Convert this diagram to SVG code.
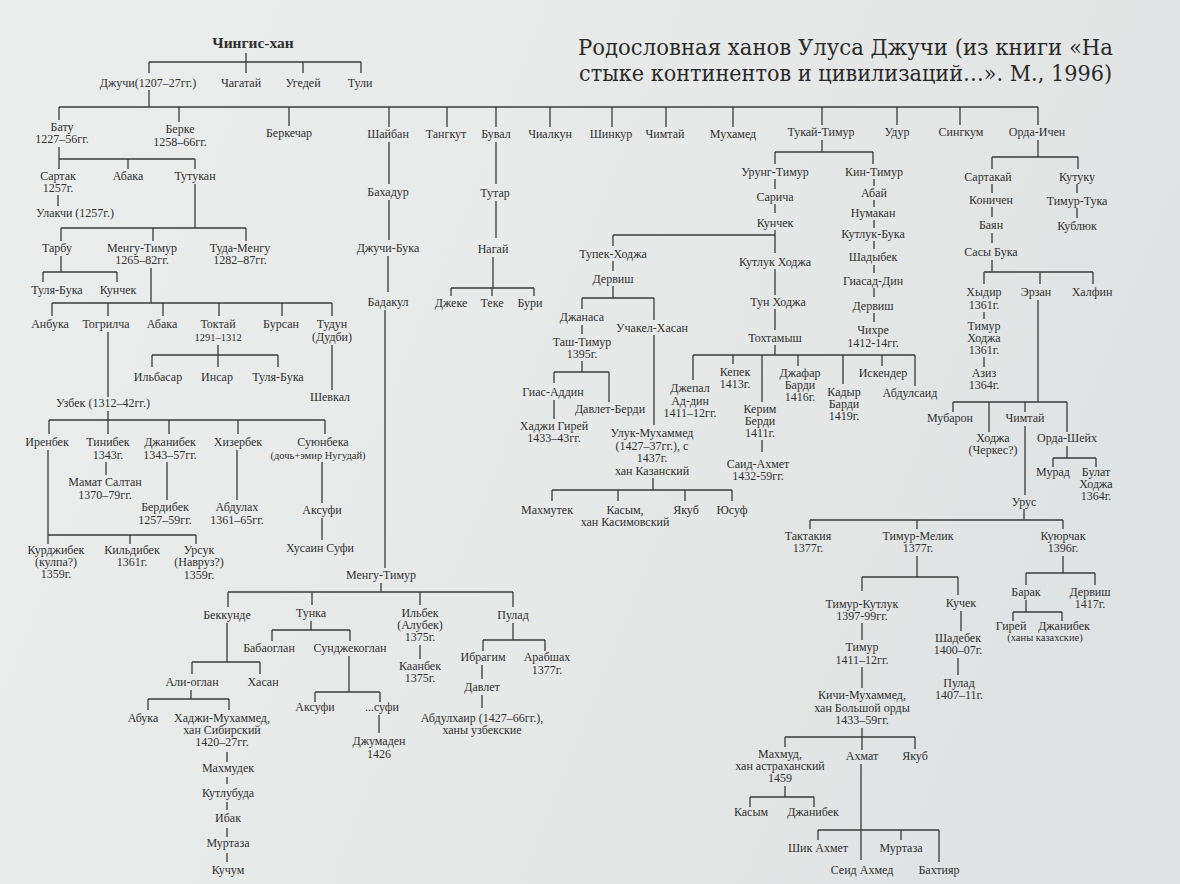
<svg xmlns="http://www.w3.org/2000/svg" width="1180" height="884" viewBox="0 0 1180 884">
<defs>
<linearGradient id="bg" x1="0" y1="0" x2="1" y2="0.3">
<stop offset="0" stop-color="#eceeed"/>
<stop offset="0.6" stop-color="#e7e9e8"/>
<stop offset="1" stop-color="#e0e3e3"/>
</linearGradient>
<style>
text{font-family:"Liberation Serif";font-size:12px;fill:#2f3030;text-anchor:middle}
.b{font-weight:bold;font-size:15.5px}
.sm{font-size:10.5px}
.ttl{font-family:"DejaVu Serif",serif;font-size:22px;text-anchor:start;fill:#2a2a2a}
#conn path{stroke:#3a3b3b;stroke-width:1.3;fill:none}
</style>
</defs>
<rect width="1180" height="884" fill="url(#bg)"/>
<g id="title"><text class="ttl" x="578" y="55" textLength="535" lengthAdjust="spacingAndGlyphs">Родословная ханов Улуса Джучи (из книги «На</text><text class="ttl" x="579" y="81" textLength="533" lengthAdjust="spacingAndGlyphs">стыке континентов и цивилизаций…». М., 1996)</text></g>
<g id="conn">
<path d="M246,53V62M149,62H361M149,62V73M246,62V73M303,62V73M361,62V73"/>
<path d="M149,90V107M59,107H1038M59,107V120M179,107V122M289,107V126M389,107V127M447,107V127M496,107V127M550,107V127M612,107V127M666,107V127M733,107V127M822,107V125M897,107V125M960,107V125M1038,107V125"/>
<path d="M59,147V159H195M59,159V169M128,159V169M195,159V169M58,195V206"/>
<path d="M195,184V228M61,228H246M61,228V241M153,228V241M246,228V241"/>
<path d="M61,256V272M43,272H117M43,272V282M117,272V282"/>
<path d="M151,268V303M52,303H332M52,303V316M108,303V316M163,303V316M219,303V316M282,303V316M332,303V316"/>
<path d="M218,345V355M152,355H278M152,355V367M218,355V367M278,355V367M332,345V390M108,332V397"/>
<path d="M108,411V420M49,420H325M49,420V434M108,420V434M169,420V434M238,420V434M325,420V434"/>
<path d="M106,462V475M167,462V500M237,450V500M322,462V503M322,518V540M48,450V535H196M48,535V544M130,535V544M196,535V544"/>
<path d="M389,142V184M389,200V240M388,256V292M385,310V568"/>
<path d="M381,583V592M228,592H513M228,592V607M312,592V605M420,592V605M513,592V607"/>
<path d="M311,621V630M272,630H350M272,630V641M350,630V641M349,656V692M315,692H380M315,692V702M380,692V702M379,715V733"/>
<path d="M227,623V662M192,662H260M192,662V674M260,662V674M191,690V699M148,699H229M148,699V710M229,699V710"/>
<path d="M227,752V762M227,777V784M227,802V810M227,828V837M227,853V862"/>
<path d="M420,645V659M513,623V640M483,640H545M483,640V651M545,640V651M482,665V679M482,695V708"/>
<path d="M496,142V184M496,201V238M493,257V288M451,288H534M451,288V296M492,288V296M534,288V296"/>
<path d="M822,140V152M775,152H873M775,152V164M873,152V164M775,179V189M775,204V213"/>
<path d="M874,179V186M874,200V207M874,220V228M874,241V249M874,265V273M874,288V297M874,313V322"/>
<path d="M775,230V253M613,235H775M613,235V246M613,261V271M613,286V298M582,298H654M582,298V309M654,298V320M654,335V425M582,325V334"/>
<path d="M582,361V372M554,372H609M554,372V383M609,372V402M554,400V419"/>
<path d="M653,478V490M552,490H732M552,490V501M618,490V501M685,490V501M732,490V501"/>
<path d="M775,269V295M775,309V330M775,345V355M693,355H915M693,355V380M733,355V364M762,355V402M798,355V366M843,355V384M882,355V366M915,355V386M762,440V452"/>
<path d="M1038,140V157M992,157H1078M992,157V169M1078,157V169M992,184V193M992,207V217M992,233V243M1077,184V193M1077,208V218"/>
<path d="M992,260V272M984,272H1093M984,272V284M1040,272V284M1093,272V284M984,312V319M984,357V367"/>
<path d="M1038,300V402M953,402H1067M953,402V412M989,402V432M1025,402V412M1067,402V432M1025,426V495"/>
<path d="M1067,446V458M1053,458H1096M1053,458V467M1096,458V467"/>
<path d="M1024,509V520M810,520H1063M810,520V529M917,520V529M1063,520V529"/>
<path d="M917,556V577M862,577H958M862,577V591M958,577V595M862,623V640M862,667V688"/>
<path d="M862,728V750M785,737H915M785,737V747M915,737V749M785,786V797M750,797H814M750,797V807M814,797V807"/>
<path d="M861,764V860M818,830H939M818,830V840M901,830V840M939,830V862"/>
<path d="M1063,556V573M1026,573H1095M1026,573V585M1095,573V585M1026,600V612M1013,612H1062M1013,612V621M1062,612V621M961,611V631M958,658V675"/>
</g>
<g id="chingis"><text class="b" x="253" y="48">Чингис-хан</text></g>
<g id="djuchi"><text x="148" y="87">Джучи(1207–27гг.)</text></g>
<g id="chagatai"><text x="241" y="87">Чагатай</text></g>
<g id="ugedei"><text x="303" y="87">Угедей</text></g>
<g id="tuli"><text x="360" y="87">Тули</text></g>
<g id="batu"><text x="62" y="131">Бату<tspan x="62" y="143">1227–56гг.</tspan></text></g>
<g id="berke"><text x="180" y="133">Берке<tspan x="180" y="146">1258–66гг.</tspan></text></g>
<g id="berkechar"><text x="289" y="137">Беркечар</text></g>
<g id="shaiban"><text x="388" y="138">Шайбан</text></g>
<g id="tangkut"><text x="446" y="138">Тангкут</text></g>
<g id="buval"><text x="496" y="138">Бувал</text></g>
<g id="chialkun"><text x="550" y="138">Чиалкун</text></g>
<g id="shinkur"><text x="611" y="138">Шинкур</text></g>
<g id="chimtai1"><text x="665" y="138">Чимтай</text></g>
<g id="muhamed"><text x="733" y="138">Мухамед</text></g>
<g id="tukai-timur"><text x="821" y="136">Тукай-Тимур</text></g>
<g id="udur"><text x="897" y="136">Удур</text></g>
<g id="singkum"><text x="961" y="136">Сингкум</text></g>
<g id="orda-ichen"><text x="1037" y="136">Орда-Ичен</text></g>
<g id="sartak"><text x="58" y="180">Сартак<tspan x="58" y="192">1257г.</tspan></text></g>
<g id="abaka1"><text x="128" y="180">Абака</text></g>
<g id="tutukan"><text x="195" y="180">Тутукан</text></g>
<g id="ulakchi"><text x="75" y="217">Улакчи (1257г.)</text></g>
<g id="tarbu"><text x="57" y="252">Тарбу</text></g>
<g id="mengu-timur1"><text x="142" y="252">Менгу-Тимур<tspan x="142" y="264">1265–82гг.</tspan></text></g>
<g id="tuda-mengu"><text x="240" y="252">Туда-Менгу<tspan x="240" y="264">1282–87гг.</tspan></text></g>
<g id="tulya-buka1"><text x="57" y="294">Туля-Бука</text></g>
<g id="kunchek1"><text x="118" y="294">Кунчек</text></g>
<g id="anbuka"><text x="50" y="328">Анбука</text></g>
<g id="togrilcha"><text x="106" y="328">Тогрилча</text></g>
<g id="abaka2"><text x="162" y="328">Абака</text></g>
<g id="toktai"><text x="218" y="328">Токтай<tspan class="sm" x="218" y="341">1291–1312</tspan></text></g>
<g id="bursan"><text x="281" y="328">Бурсан</text></g>
<g id="tudun"><text x="332" y="328">Тудун<tspan x="332" y="341">(Дудби)</tspan></text></g>
<g id="ilbasar"><text x="158" y="381">Ильбасар</text></g>
<g id="insar"><text x="217" y="381">Инсар</text></g>
<g id="tulya-buka2"><text x="278" y="381">Туля-Бука</text></g>
<g id="shevkal"><text x="330" y="401">Шевкал</text></g>
<g id="uzbek"><text x="103" y="407">Узбек (1312–42гг.)</text></g>
<g id="irenbek"><text x="47" y="446">Иренбек</text></g>
<g id="tinibek"><text x="108" y="446">Тинибек<tspan x="108" y="459">1343г.</tspan></text></g>
<g id="djanibek1"><text x="170" y="446">Джанибек<tspan x="170" y="459">1343–57гг.</tspan></text></g>
<g id="hizerbek"><text x="238" y="446">Хизербек</text></g>
<g id="suyunbeka"><text x="323" y="446">Суюнбека<tspan class="sm" x="318" y="459">(дочь+эмир Нугудай)</tspan></text></g>
<g id="mamat"><text x="105" y="486">Мамат Салтан<tspan x="105" y="499">1370–79гг.</tspan></text></g>
<g id="berdibek"><text x="165" y="511">Бердибек<tspan x="165" y="524">1257–59гг.</tspan></text></g>
<g id="abdulah"><text x="237" y="511">Абдулах<tspan x="237" y="524">1361–65гг.</tspan></text></g>
<g id="aksufi1"><text x="322" y="514">Аксуфи</text></g>
<g id="husain"><text x="320" y="552">Хусаин Суфи</text></g>
<g id="kurdjibek"><text x="56" y="554">Курджибек<tspan x="56" y="566">(кулпа?)</tspan><tspan x="56" y="578">1359г.</tspan></text></g>
<g id="kildibek"><text x="132" y="554">Кильдибек<tspan x="132" y="566">1361г.</tspan></text></g>
<g id="ursuk"><text x="199" y="554">Урсук<tspan x="199" y="566">(Навруз?)</tspan><tspan x="199" y="579">1359г.</tspan></text></g>
<g id="bahadur"><text x="388" y="196">Бахадур</text></g>
<g id="djuchi-buka"><text x="388" y="252">Джучи-Бука</text></g>
<g id="badakul"><text x="388" y="306">Бадакул</text></g>
<g id="mengu-timur2"><text x="381" y="579">Менгу-Тимур</text></g>
<g id="bekkunde"><text x="227" y="619">Беккунде</text></g>
<g id="tunka"><text x="311" y="617">Тунка</text></g>
<g id="ilbek"><text x="420" y="617">Ильбек<tspan x="420" y="629">(Алубек)</tspan><tspan x="420" y="641">1375г.</tspan></text></g>
<g id="pulad1"><text x="513" y="619">Пулад</text></g>
<g id="babaoglan"><text x="269" y="652">Бабаоглан</text></g>
<g id="sundjekoglan"><text x="350" y="652">Сунджекоглан</text></g>
<g id="ali-oglan"><text x="192" y="686">Али-оглан</text></g>
<g id="hasan"><text x="263" y="686">Хасан</text></g>
<g id="abuka"><text x="143" y="722">Абука</text></g>
<g id="hadji-muhammed"><text x="222" y="722">Хаджи-Мухаммед,<tspan x="222" y="734">хан Сибирский</tspan><tspan x="222" y="746">1420–27гг.</tspan></text></g>
<g id="mahmudek"><text x="228" y="772">Махмудек</text></g>
<g id="kutlubuda"><text x="228" y="797">Кутлубуда</text></g>
<g id="ibak"><text x="228" y="822">Ибак</text></g>
<g id="murtaza1"><text x="228" y="847">Муртаза</text></g>
<g id="kuchum"><text x="228" y="874">Кучум</text></g>
<g id="aksufi2"><text x="315" y="711">Аксуфи</text></g>
<g id="sufi"><text x="382" y="711">...суфи</text></g>
<g id="djumaden"><text x="379" y="745">Джумаден<tspan x="379" y="758">1426</tspan></text></g>
<g id="kaanbek"><text x="420" y="670">Каанбек<tspan x="420" y="682">1375г.</tspan></text></g>
<g id="ibragim"><text x="483" y="661">Ибрагим</text></g>
<g id="arabshah"><text x="547" y="661">Арабшах<tspan x="547" y="674">1377г.</tspan></text></g>
<g id="davlet"><text x="482" y="691">Давлет</text></g>
<g id="abdulhair"><text x="482" y="722">Абдулхаир (1427–66гг.),<tspan x="482" y="734">ханы узбекские</tspan></text></g>
<g id="tutar"><text x="495" y="197">Тутар</text></g>
<g id="nagai"><text x="493" y="253">Нагай</text></g>
<g id="djeke"><text x="451" y="307">Джеке</text></g>
<g id="teke"><text x="492" y="307">Теке</text></g>
<g id="buri"><text x="530" y="307">Бури</text></g>
<g id="urung-timur"><text x="775" y="176">Урунг-Тимур</text></g>
<g id="saricha"><text x="775" y="201">Сарича</text></g>
<g id="kunchek2"><text x="775" y="227">Кунчек</text></g>
<g id="kin-timur"><text x="874" y="176">Кин-Тимур</text></g>
<g id="abai"><text x="874" y="197">Абай</text></g>
<g id="numakan"><text x="873" y="217">Нумакан</text></g>
<g id="kutluk-buka"><text x="873" y="238">Кутлук-Бука</text></g>
<g id="shadybek"><text x="873" y="261">Шадыбек</text></g>
<g id="giasad-din"><text x="873" y="285">Гиасад-Дин</text></g>
<g id="dervish2"><text x="873" y="310">Дервиш</text></g>
<g id="chihre"><text x="873" y="334">Чихре<tspan x="873" y="347">1412-14гг.</tspan></text></g>
<g id="tupek"><text x="613" y="258">Тупек-Ходжа</text></g>
<g id="dervish1"><text x="613" y="283">Дервиш</text></g>
<g id="djanasa"><text x="582" y="321">Джанаса</text></g>
<g id="uchakel"><text x="652" y="332">Учакел-Хасан</text></g>
<g id="tash-timur"><text x="582" y="346">Таш-Тимур<tspan x="582" y="358">1395г.</tspan></text></g>
<g id="gias-addin"><text x="553" y="396">Гиас-Аддин</text></g>
<g id="davlet-berdi"><text x="610" y="413">Давлет-Берди</text></g>
<g id="hadji-girei"><text x="554" y="430">Хаджи Гирей<tspan x="554" y="442">1433–43гг.</tspan></text></g>
<g id="uluk"><text x="652" y="437">Улук-Мухаммед<tspan x="652" y="450">(1427–37гг.), с</tspan><tspan x="652" y="462">1437г.</tspan><tspan x="652" y="475">хан Казанский</tspan></text></g>
<g id="mahmutek"><text x="547" y="514">Махмутек</text></g>
<g id="kasym1"><text x="625" y="514">Касым,<tspan x="625" y="526">хан Касимовский</tspan></text></g>
<g id="yakub1"><text x="686" y="514">Якуб</text></g>
<g id="yusuf"><text x="732" y="514">Юсуф</text></g>
<g id="kutluk-hodja"><text x="775" y="266">Кутлук Ходжа</text></g>
<g id="tun-hodja"><text x="778" y="306">Тун Ходжа</text></g>
<g id="tohtamysh"><text x="775" y="342">Тохтамыш</text></g>
<g id="djepal"><text x="690" y="392">Джепал<tspan x="690" y="405">Ад-дин</tspan><tspan x="690" y="417">1411–12гг.</tspan></text></g>
<g id="kepek"><text x="735" y="376">Кепек<tspan x="735" y="388">1413г.</tspan></text></g>
<g id="kerim"><text x="760" y="413">Керим<tspan x="760" y="425">Берди</tspan><tspan x="760" y="437">1411г.</tspan></text></g>
<g id="djafar"><text x="800" y="377">Джафар<tspan x="800" y="389">Барди</tspan><tspan x="800" y="401">1416г.</tspan></text></g>
<g id="kadyr"><text x="844" y="396">Кадыр<tspan x="844" y="408">Барди</tspan><tspan x="844" y="420">1419г.</tspan></text></g>
<g id="iskender"><text x="883" y="377">Искендер</text></g>
<g id="abdulsaid"><text x="910" y="397">Абдулсаид</text></g>
<g id="said-ahmet"><text x="758" y="468">Саид-Ахмет<tspan x="758" y="480">1432-59гг.</tspan></text></g>
<g id="sartakai"><text x="988" y="181">Сартакай</text></g>
<g id="konichen"><text x="991" y="204">Коничен</text></g>
<g id="bayan"><text x="991" y="229">Баян</text></g>
<g id="sasy-buka"><text x="991" y="256">Сасы Бука</text></g>
<g id="kutuku"><text x="1077" y="181">Кутуку</text></g>
<g id="timur-tuka"><text x="1077" y="205">Тимур-Тука</text></g>
<g id="kublyuk"><text x="1077" y="230">Кублюк</text></g>
<g id="hydir"><text x="984" y="296">Хыдир<tspan x="984" y="309">1361г.</tspan></text></g>
<g id="timur-hodja"><text x="984" y="330">Тимур<tspan x="984" y="342">Ходжа</tspan><tspan x="984" y="354">1361г.</tspan></text></g>
<g id="aziz"><text x="984" y="377">Азиз<tspan x="984" y="389">1364г.</tspan></text></g>
<g id="erzan"><text x="1036" y="296">Эрзан</text></g>
<g id="halfin"><text x="1092" y="296">Халфин</text></g>
<g id="mubaron"><text x="950" y="422">Мубарон</text></g>
<g id="hodja"><text x="993" y="442">Ходжа<tspan x="993" y="454">(Черкес?)</tspan></text></g>
<g id="chimtai2"><text x="1025" y="422">Чимтай</text></g>
<g id="orda-sheih"><text x="1067" y="442">Орда-Шейх</text></g>
<g id="murad"><text x="1053" y="476">Мурад</text></g>
<g id="bulat"><text x="1096" y="476">Булат<tspan x="1096" y="488">Ходжа</tspan><tspan x="1096" y="500">1364г.</tspan></text></g>
<g id="urus"><text x="1024" y="506">Урус</text></g>
<g id="taktakiya"><text x="808" y="540">Тактакия<tspan x="808" y="552">1377г.</tspan></text></g>
<g id="timur-melik"><text x="918" y="540">Тимур-Мелик<tspan x="918" y="552">1377г.</tspan></text></g>
<g id="kuyurchak"><text x="1063" y="540">Куюрчак<tspan x="1063" y="552">1396г.</tspan></text></g>
<g id="timur-kutluk"><text x="862" y="608">Тимур-Кутлук<tspan x="862" y="620">1397-99гг.</tspan></text></g>
<g id="kuchek"><text x="961" y="607">Кучек</text></g>
<g id="timur"><text x="862" y="651">Тимур<tspan x="862" y="664">1411–12гг.</tspan></text></g>
<g id="kichi"><text x="862" y="699">Кичи-Мухаммед,<tspan x="862" y="712">хан Большой орды</tspan><tspan x="862" y="724">1433–59гг.</tspan></text></g>
<g id="mahmud"><text x="780" y="758">Махмуд,<tspan x="780" y="770">хан астраханский</tspan><tspan x="780" y="782">1459</tspan></text></g>
<g id="ahmat"><text x="862" y="760">Ахмат</text></g>
<g id="yakub2"><text x="915" y="760">Якуб</text></g>
<g id="kasym2"><text x="751" y="816">Касым</text></g>
<g id="djanibek2"><text x="813" y="816">Джанибек</text></g>
<g id="shik-ahmet"><text x="818" y="852">Шик Ахмет</text></g>
<g id="seid-ahmed"><text x="862" y="874">Сеид Ахмед</text></g>
<g id="murtaza2"><text x="901" y="852">Муртаза</text></g>
<g id="bahtiyar"><text x="939" y="874">Бахтияр</text></g>
<g id="barak"><text x="1026" y="596">Барак</text></g>
<g id="dervish3"><text x="1090" y="596">Дервиш<tspan x="1090" y="608">1417г.</tspan></text></g>
<g id="girei"><text x="1011" y="630">Гирей</text></g>
<g id="djanibek3"><text x="1064" y="630">Джанибек</text></g>
<g id="kazakh"><text class="sm" x="1045" y="641">(ханы казахские)</text></g>
<g id="shadebek"><text x="958" y="642">Шадебек<tspan x="958" y="654">1400–07г.</tspan></text></g>
<g id="pulad2"><text x="959" y="687">Пулад<tspan x="959" y="699">1407–11г.</tspan></text></g>
</svg>
